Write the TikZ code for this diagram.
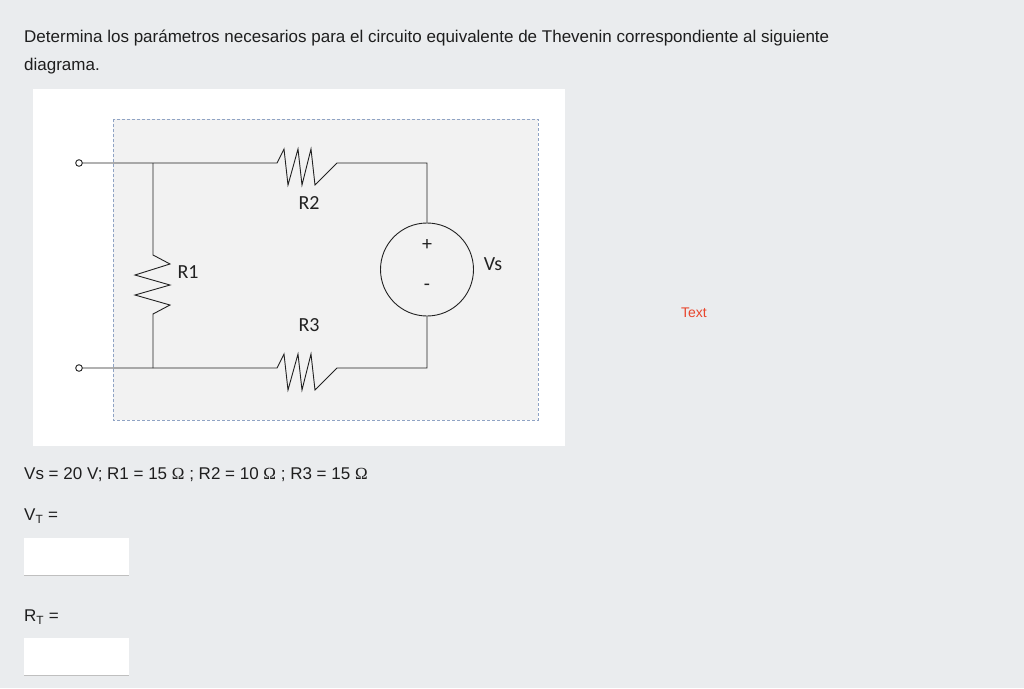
\documentclass[tikz,border=0pt]{standalone}
\usepackage{fontspec}
\setmainfont{Liberation Sans}
\newfontfamily\carl{Carlito}
\newfontfamily\tms{Liberation Serif}
\definecolor{bg}{HTML}{EAECEE}
\definecolor{panel}{HTML}{F2F2F2}
\definecolor{dashcol}{HTML}{8FA3C4}
\definecolor{wire}{HTML}{222222}
\definecolor{redt}{HTML}{E8452C}
\definecolor{txt}{HTML}{1E1E1E}
\begin{document}
\begin{tikzpicture}[x=1pt,y=-1pt,
  w/.style={draw=wire,line width=0.9pt},
  lbl/.style={font=\carl\fontsize{20}{22}\selectfont,text=wire,inner sep=0pt},
  body/.style={font=\fontsize{17}{20}\selectfont,text=txt,anchor=west,inner sep=0pt}]
\fill[bg] (0,0) rectangle (1024,688);
\useasboundingbox (0,0) rectangle (1024,688);
\node[body] (t1) at (24,38) {Determina los parámetros necesarios para el circuito equivalente de Thevenin correspondiente al siguiente};
\node[body] (t2) at (24,66) {diagrama.};
\fill[white] (33,89) rectangle (565,446);
\draw[draw=dashcol,fill=panel,dash pattern=on 3pt off 2pt,line width=0.6pt] (113,119) rectangle (538,420);
\coordinate (ta) at (79,163);
\coordinate (tb) at (79,368);
\coordinate (ja) at (153,163);
\coordinate (jb) at (153,368);
\coordinate (ca) at (427,163);
\coordinate (cb) at (427,368);
\node[w,circle,minimum size=93pt,inner sep=0pt] (vs) at (427,269.5) {};
\draw[w] (ta) -- (ja) -- (277,163) -- (284,149) -- (288,185) -- (298,149) -- (302,185) -- (311,149) -- (315,185) -- (337,163) -- (ca) -- (vs.north);
\draw[w] (tb) -- (jb) -- (277,368) -- (284,354) -- (288,390) -- (298,354) -- (302,390) -- (311,354) -- (315,390) -- (337,368) -- (cb) -- (vs.south);
\draw[w] (ja) -- (153,255) -- (170,264) -- (135,275) -- (170,285) -- (135,295) -- (170,305) -- (153,314) -- (jb);
\draw[w,fill=white] (ta) circle (3.3);
\draw[w,fill=white] (tb) circle (3.3);
\node[lbl] (lr2) at (309,203) {R2};
\node[lbl] (lr1) at (188,272) {R1};
\node[lbl] (lr3) at (309,325) {R3};
\node[lbl] (lvs) at (493,264) {Vs};
\node[lbl] (lp) at (427,245) {+};
\node[lbl] (lm) at (427,287) {-};
\node[font=\fontsize{14}{16}\selectfont,text=redt] (tx) at (694,313) {Text};
\node[body] (eq) at (24,475) {Vs = 20 V; R1 = 15 {\tms Ω} ; R2 = 10 {\tms Ω} ; R3 = 15 {\tms Ω}};
\node[body] (vt) at (24,516) {V$_{\mathrm{T}}$ =};
\node[body] (rt) at (24,617) {R$_{\mathrm{T}}$ =};
\fill[white] (24,538) rectangle (129,575);
\draw[gray!50,line width=0.8pt] (24,575) -- (129,575);
\fill[white] (24,638) rectangle (129,675);
\draw[gray!50,line width=0.8pt] (24,675) -- (129,675);
\end{tikzpicture}
\end{document}
